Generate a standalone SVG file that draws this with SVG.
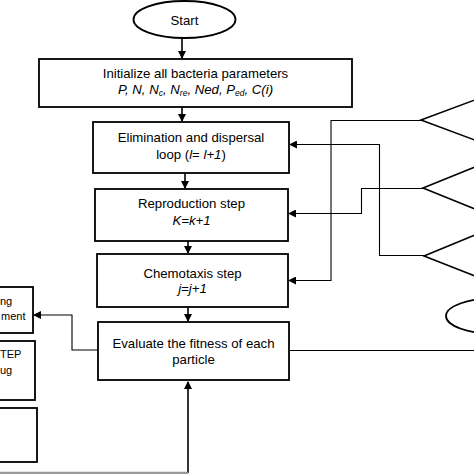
<svg xmlns="http://www.w3.org/2000/svg" width="474" height="474" viewBox="0 0 474 474">
<defs>
<marker id="ah" markerWidth="8" markerHeight="8" refX="7" refY="4" orient="auto" markerUnits="userSpaceOnUse">
<path d="M0,0 L8,4 L0,8 Z" fill="#000"/>
</marker>
<style>
.box{fill:#fff;stroke:#000;stroke-width:1.8}
.t{font-family:"Liberation Sans",Arial,sans-serif;font-size:13.2px;fill:#000;text-anchor:middle}
.ts{font-family:"Liberation Sans",Arial,sans-serif;font-size:11px;fill:#000;text-anchor:start}
.i{font-style:italic}
.c{fill:none;stroke:#000;stroke-width:1.6}
.cn{fill:none;stroke:#000;stroke-width:1.1}
.tri{fill:none;stroke:#000;stroke-width:1.6}
</style>
</defs>
<rect width="474" height="474" fill="#fff"/>
<g id="connectors">
<line class="c" x1="182" y1="38" x2="182" y2="58" marker-end="url(#ah)"/>
<line class="c" x1="182" y1="107" x2="182" y2="121" marker-end="url(#ah)"/>
<line class="c" x1="185" y1="173" x2="185" y2="188" marker-end="url(#ah)"/>
<line class="c" x1="188" y1="241" x2="188" y2="253" marker-end="url(#ah)"/>
<line class="c" x1="188" y1="307" x2="188" y2="321" marker-end="url(#ah)"/>
<polyline class="c" points="188,473 188,382" marker-end="url(#ah)"/>
<line x1="0" y1="473" x2="188" y2="473" stroke="#999" stroke-width="2.5"/>
<polyline class="cn" points="98,350 72,350 72,315 34,315" marker-end="url(#ah)"/>
<line class="cn" x1="289" y1="350.5" x2="474" y2="350.5"/>
<polyline class="cn" points="421,120.5 331,120.5 331,280.5 289,280.5" marker-end="url(#ah)"/>
<polyline class="cn" points="423,188.5 361.5,188.5 361.5,213.5 289,213.5" marker-end="url(#ah)"/>
<polyline class="cn" points="424,255.5 379.5,255.5 379.5,144.5 290,144.5" marker-end="url(#ah)"/>
</g>
<g id="start">
<ellipse class="box" cx="184.5" cy="19.5" rx="51" ry="18.5"/>
<text class="t" x="184.5" y="24.5">Start</text>
</g>
<g id="init">
<rect class="box" x="39" y="59" width="313" height="48"/>
<text class="t" x="195.5" y="77.5">Initialize all bacteria parameters</text>
<text class="t i" x="195.5" y="93.5">P, N, N<tspan font-size="8.5" dy="2">c</tspan><tspan dy="-2">, N</tspan><tspan font-size="8.5" dy="2">re</tspan><tspan dy="-2">, Ned, P</tspan><tspan font-size="8.5" dy="2">ed</tspan><tspan dy="-2">, C(i)</tspan></text>
</g>
<g id="elim">
<rect class="box" x="93" y="122" width="196" height="51"/>
<text class="t" x="191" y="141.5">Elimination and dispersal</text>
<text class="t" x="191" y="158.5">loop (<tspan class="i">l</tspan>= <tspan class="i">l+1</tspan>)</text>
</g>
<g id="repro">
<rect class="box" x="95" y="189" width="193" height="52"/>
<text class="t" x="191.5" y="207.5">Reproduction step</text>
<text class="t i" x="191.5" y="224.5">K=k+1</text>
</g>
<g id="chemo">
<rect class="box" x="97" y="254" width="191" height="53"/>
<text class="t" x="192.5" y="277.5">Chemotaxis step</text>
<text class="t i" x="192.5" y="292.5">j=j+1</text>
</g>
<g id="evaluate">
<rect class="box" x="98" y="322" width="191" height="58"/>
<text class="t" x="193.5" y="347.5">Evaluate the fitness of each</text>
<text class="t" x="193.5" y="363.5">particle</text>
</g>
<g id="left1">
<rect class="box" x="-10" y="287" width="43" height="46"/>
<text class="ts" x="0" y="305">ng</text>
<text class="ts" x="1" y="320">ment</text>
</g>
<g id="left2">
<rect class="box" x="-10" y="341" width="45" height="59"/>
<text class="ts" x="0" y="358">TEP</text>
<text class="ts" x="0" y="374">ug</text>
</g>
<g id="left3">
<rect class="box" x="-10" y="408" width="47" height="54"/>
</g>
<g id="diamond1">
<polyline class="tri" points="480,98 421,120 480,142"/>
</g>
<g id="diamond2">
<polyline class="tri" points="480,165 423,188 480,211"/>
</g>
<g id="diamond3">
<polyline class="tri" points="480,233 424,256 480,278"/>
</g>
<g id="end">
<ellipse class="box" cx="497" cy="316" rx="51" ry="18"/>
</g>
</svg>
